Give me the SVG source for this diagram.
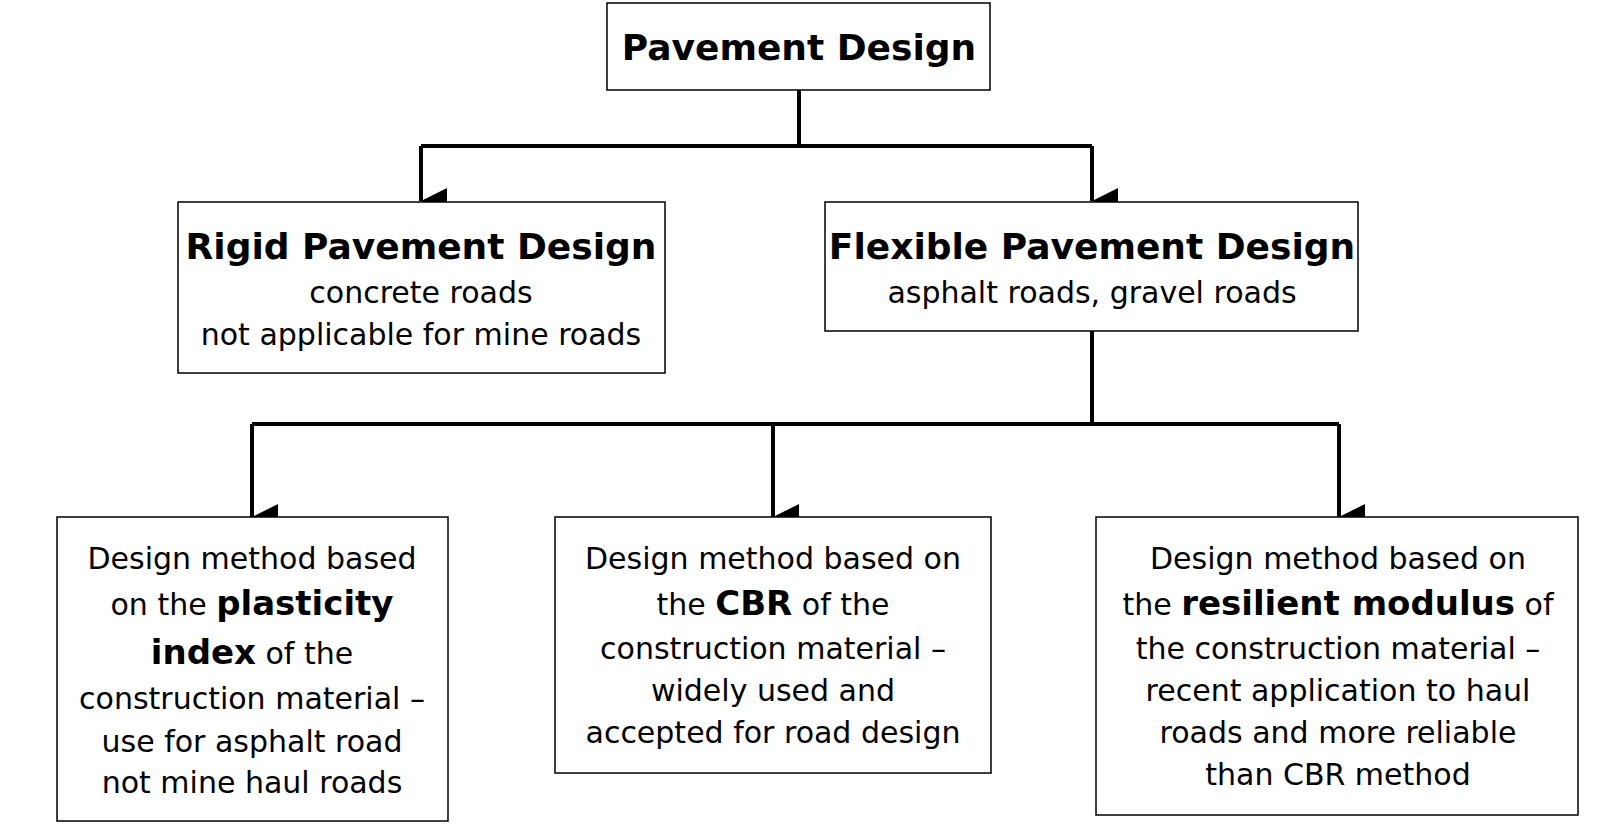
<svg xmlns="http://www.w3.org/2000/svg" width="1612" height="839" viewBox="0 0 1612 839">
<style>
.b{fill:#fff;stroke:#000;stroke-width:1.5}
text{font-family:"DejaVu Sans",sans-serif;fill:#000;text-anchor:middle}
.t{font-size:36px;font-weight:bold}
.n{font-size:30px}
.k{font-weight:bold;font-size:34px}
.c{fill:none;stroke:#000;stroke-width:4}
</style>
<defs><marker id="a" markerUnits="userSpaceOnUse" markerWidth="26" markerHeight="26" viewBox="0 0 26 26" refX="13" refY="26" orient="auto"><path d="M0,0 L26,0 L13,26 Z" fill="#000"/></marker></defs>
<rect width="1612" height="839" fill="#fff"/>
<g id="connectors">
<path class="c" d="M799,90 V146"/>
<path class="c" d="M421,146 H1092"/>
<path class="c" d="M421,146 V201" marker-end="url(#a)"/>
<path class="c" d="M1092,146 V201" marker-end="url(#a)"/>
<path class="c" d="M1092,331 V424"/>
<path class="c" d="M252,424 H1339"/>
<path class="c" d="M252,424 V517" marker-end="url(#a)"/>
<path class="c" d="M773,424 V517" marker-end="url(#a)"/>
<path class="c" d="M1339,424 V517" marker-end="url(#a)"/>
</g>
<g id="root"><rect class="b" x="607" y="3" width="383" height="87"/><text class="t" x="799" y="60">Pavement Design</text></g>
<g id="rigid"><rect class="b" x="178" y="202" width="487" height="171"/>
<text class="t" x="421" y="259">Rigid Pavement Design</text>
<text class="n" x="421" y="303">concrete roads</text>
<text class="n" x="421" y="345">not applicable for mine roads</text></g>
<g id="flexible"><rect class="b" x="825" y="202" width="533" height="129"/>
<text class="t" x="1092" y="259">Flexible Pavement Design</text>
<text class="n" x="1092" y="303">asphalt roads, gravel roads</text></g>
<g id="pi"><rect class="b" x="57" y="517" width="391" height="304"/>
<text class="n" x="252" y="569">Design method based</text>
<text class="n" x="252" y="615">on the <tspan class="k">plasticity</tspan></text>
<text class="n" x="252" y="664"><tspan class="k">index</tspan> of the</text>
<text class="n" x="252" y="709">construction material –</text>
<text class="n" x="252" y="752">use for asphalt road</text>
<text class="n" x="252" y="793">not mine haul roads</text></g>
<g id="cbr"><rect class="b" x="555" y="517" width="436" height="256"/>
<text class="n" x="773" y="569">Design method based on</text>
<text class="n" x="773" y="615">the <tspan class="k">CBR</tspan> of the</text>
<text class="n" x="773" y="659">construction material –</text>
<text class="n" x="773" y="701">widely used and</text>
<text class="n" x="773" y="743">accepted for road design</text></g>
<g id="rm"><rect class="b" x="1096" y="517" width="482" height="298"/>
<text class="n" x="1338" y="569">Design method based on</text>
<text class="n" x="1338" y="615">the <tspan class="k">resilient modulus</tspan> of</text>
<text class="n" x="1338" y="659">the construction material –</text>
<text class="n" x="1338" y="701">recent application to haul</text>
<text class="n" x="1338" y="743">roads and more reliable</text>
<text class="n" x="1338" y="785">than CBR method</text></g>
</svg>
